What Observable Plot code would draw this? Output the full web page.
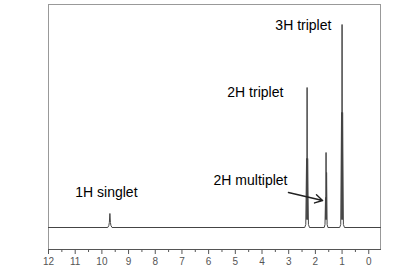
<!DOCTYPE html>
<html>
<head>
<meta charset="utf-8">
<script src="https://cdn.jsdelivr.net/npm/d3@7"></script>
<script src="https://cdn.jsdelivr.net/npm/@observablehq/plot@0.6"></script>
<style>
  html, body { margin: 0; padding: 0; background: white; }
</style>
</head>
<body>
<div id="chart"></div>
<script>
// Chemical shift (ppm) and intensity of the spectrum trace
const spectrumPpm = [12, 9.78, 9.74, 9.72, 9.70, 9.68, 9.66, 9.62,
  2.40, 2.36, 2.33, 2.32, 2.31, 2.30, 2.29, 2.26, 2.22,
  1.67, 1.64, 1.62, 1.61, 1.60, 1.59, 1.58, 1.56, 1.53,
  1.09, 1.05, 1.02, 1.01, 1.00, 0.99, 0.98, 0.95, 0.91, -0.44];
const spectrumIntensity = [0, 0, 2, 5, 14, 5, 2, 0,
  0, 3, 69, 8, 140, 8, 69, 3, 0,
  0, 3, 30, 8, 75, 8, 55, 3, 0,
  0, 3, 115, 8, 203, 8, 115, 3, 0, 0];

// Peak annotations
const labelText = ["3H triplet", "2H triplet", "2H multiplet", "1H singlet"];
const labelPpm = [1.40, 3.20, 3.045, 9.83];
const labelIntensity = [202, 135, 47, 35];
const labelAnchor = ["end", "end", "end", "middle"];

// Arrow pointing to the multiplet
const arrowFrom = {ppm: 3.01, intensity: 35};
const arrowTo = {ppm: 1.73, intensity: 27};

// Tick labels
const majorTicks = [12, 11, 10, 9, 8, 7, 6, 5, 4, 3, 2, 1, 0];
const minorTicks = [11.5, 10.5, 9.5, 8.5, 7.5, 6.5, 5.5, 4.5, 3.5, 2.5, 1.5, 0.5];

const spectrum = spectrumPpm.map((p, i) => ({ppm: p, intensity: spectrumIntensity[i]}));
const labels = labelText.map((t, i) => ({text: t, ppm: labelPpm[i], intensity: labelIntensity[i], anchor: labelAnchor[i]}));

const font = "'Liberation Sans', Arial, Helvetica, sans-serif";

const chart = Plot.plot({
  width: 401,
  height: 273,
  marginLeft: 48,
  marginRight: 21,
  marginTop: 4,
  marginBottom: 24,
  style: {fontFamily: font, fontSize: "10px", background: "white", color: "#444"},
  x: {domain: [12, -0.44], label: null},
  y: {domain: [-22, 223], axis: null},
  marks: [
    Plot.frame({stroke: "#999"}),
    Plot.frame({anchor: "bottom", stroke: "#555"}),
    Plot.axisX({ticks: minorTicks, tickSize: 3, tickFormat: () => "", stroke: "#555", label: null}),
    Plot.axisX({ticks: majorTicks, tickSize: 5, tickPadding: 3, tickFormat: d3.format("d"), stroke: "#555", fill: "#555", label: null}),
    Plot.line(spectrum, {x: "ppm", y: "intensity", stroke: "#444", strokeWidth: 1}),
    ...labels.map(l => Plot.text([l], {x: "ppm", y: "intensity", text: "text", textAnchor: l.anchor, fontSize: 14, fill: "black", fontFamily: font})),
    Plot.arrow([{}], {x1: () => arrowFrom.ppm, y1: () => arrowFrom.intensity, x2: () => arrowTo.ppm, y2: () => arrowTo.intensity, bend: 0, stroke: "#222", strokeWidth: 1.4, headLength: 9})
  ]
});
document.getElementById("chart").appendChild(chart);
</script>
</body>
</html>
